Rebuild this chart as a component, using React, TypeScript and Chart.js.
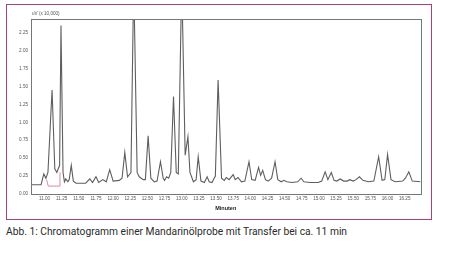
import React, { useEffect, useRef } from "react";
import { Chart, registerables } from "chart.js";

Chart.register(...registerables);

// Retention time (minutes)
const times = [
  10.803, 10.95, 10.99, 11.02, 11.05, 11.11, 11.15, 11.18, 11.22, 11.24, 11.27, 11.29, 11.31, 11.34, 11.36,
  11.39, 11.42, 11.46, 11.6, 11.66, 11.7, 11.75, 11.79, 11.85, 11.9, 11.95, 12.0, 12.09, 12.13, 12.17,
  12.21, 12.26, 12.3, 12.35, 12.38, 12.44, 12.47, 12.51, 12.55, 12.6, 12.64, 12.69, 12.73, 12.75, 12.78,
  12.81, 12.84, 12.88, 12.92, 12.95, 13.0, 13.05, 13.09, 13.12, 13.17, 13.21, 13.24, 13.28, 13.33, 13.37,
  13.4, 13.44, 13.49, 13.53, 13.58, 13.62, 13.65, 13.69, 13.75, 13.78, 13.82, 13.87, 13.92, 13.98, 14.02,
  14.07, 14.12, 14.15, 14.18, 14.22, 14.26, 14.31, 14.36, 14.4, 14.45, 14.49, 14.53, 14.61, 14.69, 14.74,
  14.78, 14.87, 14.99, 15.04, 15.09, 15.13, 15.18, 15.22, 15.26, 15.31, 15.36, 15.41, 15.45, 15.5, 15.54,
  15.59, 15.64, 15.72, 15.8, 15.87, 15.92, 15.96, 16.0, 16.05, 16.11, 16.22, 16.26, 16.31, 16.36, 16.48,
];

// Signal (uV x 10,000)
const signal = [
  0.13, 0.13, 0.28, 0.22, 0.3, 1.45, 0.35, 0.3, 0.4, 2.35, 0.3, 0.17, 0.21, 0.17, 0.2,
  0.4, 0.18, 0.15, 0.15, 0.21, 0.16, 0.24, 0.16, 0.2, 0.17, 0.34, 0.18, 0.19, 0.22, 0.58,
  0.24, 0.3, 3.0, 0.3, 0.24, 0.2, 0.2, 0.81, 0.22, 0.17, 0.18, 0.45, 0.22, 0.19, 0.24,
  0.22, 0.3, 1.36, 0.3, 0.28, 3.0, 0.54, 0.8, 0.3, 0.17, 0.2, 0.52, 0.18, 0.16, 0.24,
  0.17, 0.16, 0.25, 1.59, 0.22, 0.19, 0.23, 0.2, 0.27, 0.2, 0.23, 0.17, 0.18, 0.45, 0.2,
  0.19, 0.37, 0.26, 0.33, 0.2, 0.18, 0.22, 0.45, 0.2, 0.17, 0.19, 0.17, 0.16, 0.17, 0.22,
  0.17, 0.16, 0.16, 0.18, 0.31, 0.2, 0.3, 0.19, 0.18, 0.21, 0.18, 0.18, 0.2, 0.18, 0.2,
  0.24, 0.19, 0.17, 0.18, 0.52, 0.19, 0.2, 0.55, 0.2, 0.17, 0.18, 0.22, 0.31, 0.18, 0.17,
];

// Second (reference) trace: its baseline under the first two peaks
const refTimes = [11.03, 11.055, 11.215, 11.225];
const refSignal = [0.2, 0.11, 0.11, 0.3];

const yMax = 2.44;
const xMin = 10.803;
const xMax = 16.48;

const boxPlugin = {
  id: "plotBox",
  afterDraw(chart: any) {
    const { ctx, chartArea } = chart;
    ctx.save();
    ctx.strokeStyle = "#777";
    ctx.lineWidth = 1;
    ctx.strokeRect(
      Math.round(chartArea.left) + 0.5,
      Math.round(chartArea.top) + 0.5,
      Math.round(chartArea.right - chartArea.left),
      Math.round(chartArea.bottom - chartArea.top)
    );
    ctx.restore();
  },
};

export default function App() {
  const ref = useRef<HTMLCanvasElement | null>(null);

  useEffect(() => {
    if (!ref.current) return;
    const chart = new Chart(ref.current, {
      type: "line",
      data: {
        datasets: [
          {
            data: times.map((t, i) => ({ x: t, y: signal[i] })),
            borderColor: "#5e5e5e",
            borderWidth: 1.1,
            pointRadius: 0,
            tension: 0,
            fill: false,
          },
          {
            data: refTimes.map((t, i) => ({ x: t, y: refSignal[i] })),
            borderColor: "#d98aa8",
            borderWidth: 1,
            pointRadius: 0,
            tension: 0,
            fill: false,
          },
        ],
      },
      plugins: [boxPlugin],
      options: {
        animation: false,
        responsive: false,
        maintainAspectRatio: false,
        layout: { padding: { top: 11, right: 7.5, left: 0, bottom: 0 } },
        plugins: { legend: { display: false }, tooltip: { enabled: false }, title: { display: false } },
        scales: {
          x: {
            type: "linear",
            min: xMin,
            max: xMax,
            grid: { display: false, drawTicks: false, tickLength: 0 },
            border: { display: false },
            afterFit: (s: any) => {
              s.height = 22;
            },
            ticks: {
              stepSize: 0.25,
              includeBounds: false,
              autoSkip: false,
              maxRotation: 0,
              padding: 2,
              color: "#555",
              font: { size: 4.6, family: "Liberation Sans" },
              callback: (v: any) => Number(v).toFixed(2),
            },
            title: {
              display: true,
              text: "Minuten",
              color: "#222",
              font: { size: 5.5, weight: "bold", family: "Liberation Sans" },
              padding: { top: 0, bottom: 4 },
            },
          },
          y: {
            min: 0,
            max: yMax,
            grid: { display: false, drawTicks: false, tickLength: 0 },
            border: { display: false },
            afterFit: (s: any) => {
              s.width = 23;
            },
            ticks: {
              stepSize: 0.25,
              includeBounds: false,
              padding: 3,
              color: "#555",
              font: { size: 4.6, family: "Liberation Sans" },
              callback: (v: any) => Number(v).toFixed(2),
            },
          },
        },
      },
    });
    return () => chart.destroy();
  }, []);

  return (
    <div style={{ position: "absolute", left: 0, top: 0, width: 474, height: 258, background: "#fff" }}>
      <div
        style={{
          position: "absolute",
          left: 6,
          top: 4,
          width: 424,
          height: 214,
          border: "1.5px solid #a8427a",
        }}
      />
      <canvas
        ref={ref}
        width={420}
        height={208}
        style={{ position: "absolute", left: 8, top: 8, width: 420, height: 208 }}
      />
      <div
        style={{
          position: "absolute",
          left: 32,
          top: 11,
          fontFamily: "Liberation Sans",
          fontSize: 4.6,
          color: "#555",
          whiteSpace: "nowrap",
          lineHeight: "6px",
        }}
      >
        uV (x 10,000)
      </div>
      <div
        style={{
          position: "absolute",
          left: 6,
          top: 225,
          fontFamily: "Roboto",
          fontSize: 10.25,
          color: "#2a2a2a",
          whiteSpace: "nowrap",
          lineHeight: "14px",
        }}
      >
        Abb. 1: Chromatogramm einer Mandarinölprobe mit Transfer bei ca. 11 min
      </div>
    </div>
  );
}
